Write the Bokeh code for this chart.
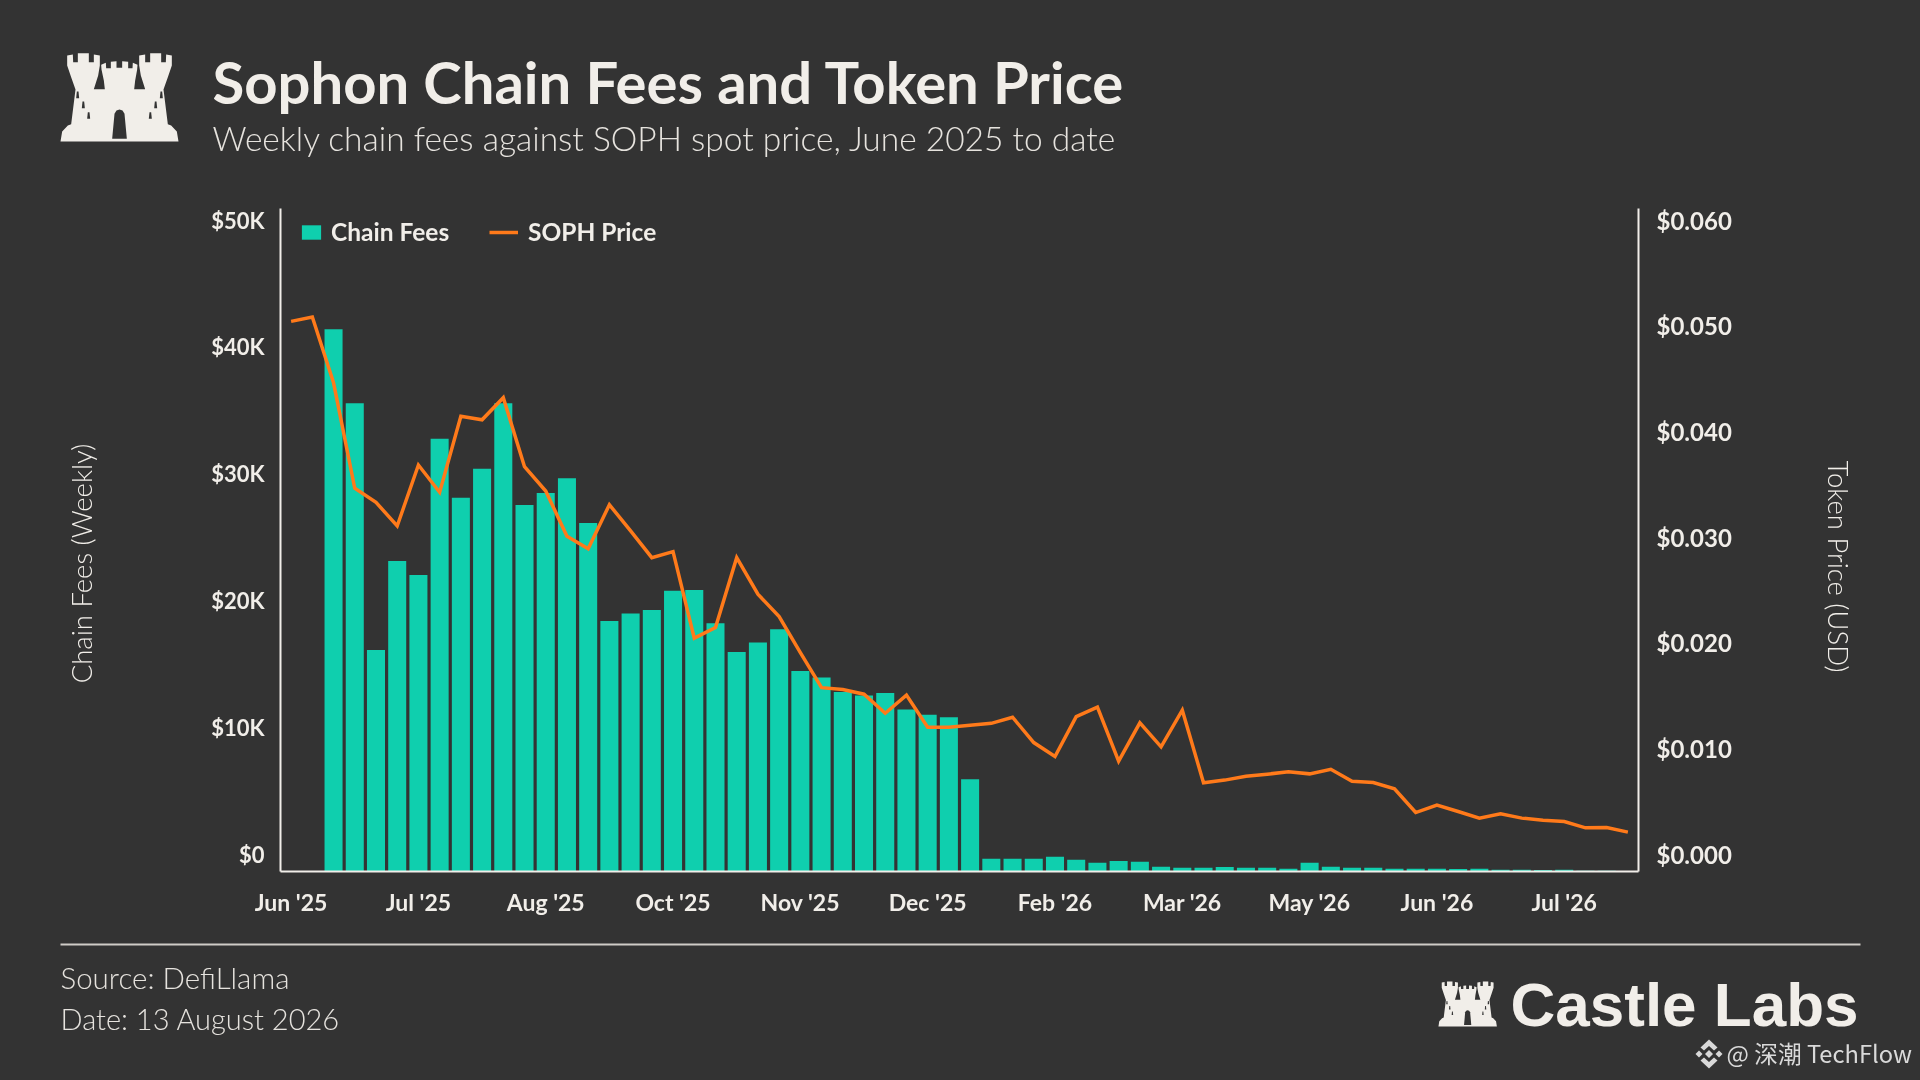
from bokeh.plotting import figure
from bokeh.embed import file_html
from bokeh.resources import INLINE
from bokeh.models import (Range1d, LinearAxis, FixedTicker, Label, PolyAnnotation, Legend, LegendItem)

# ---------- data ----------
x_tick_weeks = [0, 6, 12, 18, 24, 30, 36, 42, 48, 54, 60]
x_tick_labels = ["Jun '25", "Jul '25", "Aug '25", "Oct '25", "Nov '25", "Dec '25",
                 "Feb '26", "Mar '26", "May '26", "Jun '26", "Jul '26"]
fee_ticks = [0, 10000, 20000, 30000, 40000, 50000]
fee_tick_labels = ["$0", "$10K", "$20K", "$30K", "$40K", "$50K"]
price_ticks = [0.0, 0.01, 0.02, 0.03, 0.04, 0.05, 0.06]
price_tick_labels = ["$0.000", "$0.010", "$0.020", "$0.030", "$0.040", "$0.050", "$0.060"]

chain_fees = [0, 0, 42757, 36924, 17477, 24492, 23389, 34133, 29482, 31768, 36924, 28907, 29853,
              31012, 27488, 19763, 20338, 20630, 22151, 22206, 19581, 17319, 18052, 19108, 15821,
              15293, 14166, 13874, 14087, 12770, 12353, 12171, 7284, 1001, 1001, 1001, 1159, 922,
              686, 820, 765, 370, 292, 292, 347, 292, 292, 213, 686, 370, 292, 292, 213, 213, 213,
              195, 213, 134, 134, 118, 134, 55, 55, 0]
soph_price = [0.05206, 0.05247, 0.04625, 0.03627, 0.03494, 0.03270, 0.03847, 0.03589, 0.04308,
              0.04275, 0.04484, 0.03831, 0.03601, 0.03173, 0.03055, 0.03471, 0.03223, 0.02970,
              0.03027, 0.02208, 0.02308, 0.02970, 0.02624, 0.02412, 0.02072, 0.01740, 0.01722,
              0.01678, 0.01498, 0.01669, 0.01366, 0.01366, 0.01383, 0.01402, 0.01460, 0.01220,
              0.01088, 0.01466, 0.01555, 0.01044, 0.01407, 0.01180, 0.01527, 0.00839, 0.00865,
              0.00902, 0.00921, 0.00943, 0.00924, 0.00967, 0.00855, 0.00842, 0.00782, 0.00558,
              0.00628, 0.00568, 0.00505, 0.00546, 0.00505, 0.00486, 0.00473, 0.00413, 0.00416,
              0.00373]
weeks = list(range(len(soph_price)))
assert len(chain_fees) == len(soph_price)

# ---------- style ----------
BG = "#333333"
CREAM = "#F1EEE9"
TEAL = "#0FCFAE"
ORANGE = "#FF7A1A"
HEAVY = "Lato"
LIGHT = "Lato Light"

FRAME_L, FRAME_R, FRAME_T, FRAME_B = 280, 1638, 208, 871
PX_PER_50K = 634.0
FEE_TOP = (FRAME_B - FRAME_T) / PX_PER_50K * 50000
PRICE_TOP = (FRAME_B - FRAME_T) / PX_PER_50K * 0.06
LABEL_SHIFT_PX = 17.5  # tick labels sit above their value in the reference
fee_shift = LABEL_SHIFT_PX / PX_PER_50K * 50000
price_shift = LABEL_SHIFT_PX / PX_PER_50K * 0.06
BLEED = 2  # canvases overhang the window slightly, so their edges stay off-screen
FIXED = {"position": "fixed", "left": f"-{BLEED}px", "top": f"-{BLEED}px"}
CANVAS_W, CANVAS_H = 1920 + 2 * BLEED, 1080 + 2 * BLEED

# ---------- page backdrop: headline, logo, footer (pixel coordinates, y downward) ----------
deco = figure(width=CANVAS_W, height=CANVAS_H, output_backend="svg", toolbar_location=None, tools="",
              x_range=Range1d(-BLEED, 1920 + BLEED), y_range=Range1d(1080 + BLEED, -BLEED),
              x_axis_location=None, y_axis_location=None,
              background_fill_color=BG, border_fill_color=BG, outline_line_color=None,
              min_border_left=0, min_border_right=0, min_border_top=0, min_border_bottom=0)
deco.styles = FIXED
deco.grid.visible = False


def text(s, px, py, size, color=CREAM, font=LIGHT, style="normal", align="left", angle=0.0):
    deco.add_layout(Label(x=px, y=py, text=s, text_color=color, text_font=font,
                          text_font_style=style, text_font_size=f"{size}px", text_align=align,
                          text_baseline="middle", angle=angle))


def poly(xs, ys, color):
    deco.add_layout(PolyAnnotation(xs=list(xs), ys=list(ys), fill_color=color, fill_alpha=1,
                                   line_color=None))


CASTLE = [(30, 288), (35, 258), (52, 240), (62, 236), (75, 132), (62, 95), (50, 60), (50, 30),
          (67, 27), (68, 50), (82, 50), (82, 23), (115, 23), (115, 50), (130, 50), (130, 27),
          (148, 30), (148, 60), (143, 90), (130, 131), (163, 131), (160, 105), (153, 72),
          (152, 58), (166, 52), (167, 68), (181, 68), (181, 49), (198, 47), (198, 67), (215, 67),
          (215, 47), (233, 49), (233, 68), (246, 68), (247, 52), (261, 58), (260, 72), (254, 105),
          (251, 131), (284, 131), (271, 90), (266, 60), (266, 30), (284, 27), (284, 50), (299, 50),
          (299, 23), (332, 23), (332, 50), (346, 50), (347, 27), (364, 30), (364, 60), (352, 95),
          (339, 132), (352, 236), (362, 240), (379, 258), (384, 288)]
DOOR = [(185, 280), (192, 205), (198, 195), (207, 192), (216, 195), (222, 205), (229, 280)]
SLITS = [[(79, 138), (84, 138), (86, 158), (77, 158)], [(96, 168), (101, 168), (103, 188), (94, 188)],
         [(112, 200), (117, 200), (119, 220), (110, 220)], [(330, 138), (335, 138), (337, 158), (328, 158)],
         [(313, 168), (318, 168), (320, 188), (311, 188)], [(297, 200), (302, 200), (304, 220), (295, 220)]]


def castle(ox, oy, sx, sy):
    poly([ox + a * sx for a, _ in CASTLE], [oy + b * sy for _, b in CASTLE], CREAM)
    poly([ox + a * sx for a, _ in DOOR], [oy + b * sy for _, b in DOOR], BG)
    for slit in SLITS:
        poly([ox + a * sx for a, _ in slit], [oy + b * sy for _, b in slit], BG)


castle(50, 45, 1 / 3, 1 / 3)
castle(1433, 977, 0.165, 0.17)

text("Sophon Chain Fees and Token Price", 212, 80.5, 58, font=HEAVY, style="bold")
text("Weekly chain fees against SOPH spot price, June 2025 to date", 212, 137.5, 33.5, color="#E6E3DE")
text("Chain Fees (Weekly)", 81, 563, 27.5, align="center", angle=1.5708)
text("Token Price (USD)", 1838, 566, 27.5, align="center", angle=-1.5708)
text("Source: DefiLlama", 60, 976.5, 29.5, color="#E6E3DE")
text("Date: 13 August 2026", 60, 1018, 29, color="#E6E3DE")
text("Castle Labs", 1510, 1004, 62, font="Liberation Sans", style="bold")
text("@ 深潮 TechFlow", 1726, 1052, 23.7, color="#D9D9D9", font="Noto Sans CJK SC")

# footer rule
poly([60, 1860, 1860, 60], [943, 943, 945, 945], "#CFCCC7")

# watermark mark
for cx, cy, r in [(1698.5, 1053.5, 3.5), (1718.5, 1053.5, 3.5), (1708.5, 1053.5, 4)]:
    poly([cx - r, cx, cx + r, cx], [cy, cy - r, cy, cy + r], "#D9D9D9")
poly([1700, 1708.5, 1717, 1713.5, 1708.5, 1703.5], [1047, 1039, 1047, 1050, 1045.5, 1050], "#D9D9D9")
poly([1700, 1708.5, 1717, 1713.5, 1708.5, 1703.5], [1060, 1068, 1060, 1057, 1061.5, 1057], "#D9D9D9")

# ---------- the chart, transparent over the backdrop ----------
p = figure(width=CANVAS_W, height=CANVAS_H, output_backend="svg", toolbar_location=None, tools="",
           x_range=Range1d(-0.5, 63.5), y_range=Range1d(0, FEE_TOP),
           x_axis_location=None, y_axis_location=None,
           background_fill_color=None, border_fill_color=None, outline_line_color=None,
           min_border_left=FRAME_L + BLEED, min_border_right=1920 - FRAME_R + BLEED,
           min_border_top=FRAME_T + BLEED, min_border_bottom=1080 - FRAME_B + BLEED)
p.styles = FIXED
p.grid.visible = False
p.extra_y_ranges = {
    "price": Range1d(0, PRICE_TOP),
    "fee_labels": Range1d(-fee_shift, FEE_TOP - fee_shift),
    "price_labels": Range1d(-price_shift, PRICE_TOP - price_shift),
}


def style_axis(ax, font_size):
    ax.axis_line_color = CREAM
    ax.axis_line_width = 2
    ax.major_tick_line_color = None
    ax.minor_tick_line_color = None
    ax.major_label_text_color = CREAM
    ax.major_label_text_font = HEAVY
    ax.major_label_text_font_style = "bold"
    ax.major_label_text_font_size = font_size


xax = LinearAxis(ticker=FixedTicker(ticks=x_tick_weeks),
                 major_label_overrides=dict(zip(x_tick_weeks, x_tick_labels)))
style_axis(xax, "23px")
xax.major_label_standoff = 10
p.add_layout(xax, "below")

lax = LinearAxis(y_range_name="fee_labels", ticker=FixedTicker(ticks=fee_ticks),
                 major_label_overrides=dict(zip(fee_ticks, fee_tick_labels)))
style_axis(lax, "22px")
lax.major_label_standoff = 10
p.add_layout(lax, "left")

rax = LinearAxis(y_range_name="price_labels", ticker=FixedTicker(ticks=price_ticks),
                 major_label_overrides=dict(zip(price_ticks, price_tick_labels)))
style_axis(rax, "24px")
rax.major_label_standoff = 12
p.add_layout(rax, "right")

bars = p.vbar(x=weeks, top=chain_fees, bottom=0, width=0.85, fill_color=TEAL, line_color=None)
line = p.line(x=weeks, y=soph_price, y_range_name="price", line_color=ORANGE, line_width=3.5,
              line_join="miter")


def legend_entry(label, renderer, x, glyph_width, standoff):
    p.add_layout(Legend(items=[LegendItem(label=label, renderers=[renderer])],
                        orientation="horizontal", location=(x, 625), background_fill_alpha=0,
                        border_line_alpha=0, margin=0, padding=0, glyph_width=glyph_width,
                        glyph_height=18, label_standoff=standoff, label_text_color=CREAM,
                        label_text_font=HEAVY, label_text_font_style="bold",
                        label_text_font_size="24.5px"), "center")


legend_entry("Chain Fees", bars, 19, 24, 8)
legend_entry("SOPH Price", line, 209, 29, 10)

open("out.html", "w").write(file_html([deco, p], INLINE))
